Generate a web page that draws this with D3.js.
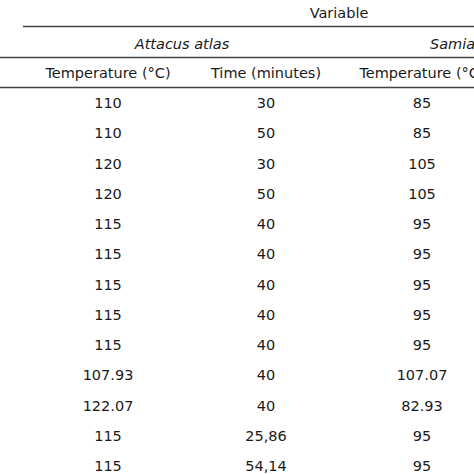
<!DOCTYPE html>
<html><head><meta charset="utf-8">
<script src="https://cdn.jsdelivr.net/npm/d3@7"></script>
<style>body{margin:0;background:#fff}text{font-family:Tahoma,"DejaVu Sans",sans-serif;fill:#1a1a1a;font-size:14.5px}</style>
</head><body><svg id="c" width="474" height="474"></svg>
<script>
// column headers and values
var headers = ["Temperature (°C)", "Time (minutes)", "Temperature (°C)"];
var attacusTemp = ["110", "110", "120", "120", "115", "115", "115", "115", "115", "107.93", "122.07", "115", "115"];
var attacusTime = ["30", "50", "30", "50", "40", "40", "40", "40", "40", "40", "40", "25,86", "54,14"];
var samiaTemp = ["85", "85", "105", "105", "95", "95", "95", "95", "95", "107.07", "82.93", "95", "95"];

var svg = d3.select("#c")
var x = d3.scaleOrdinal().domain([0, 1, 2]).range([108, 266, 422])
var y = d3.scaleLinear().domain([0, 12]).range([108, 471])

function line(x1, x2, yy) {
    svg.append("line").attr("x1", x1).attr("x2", x2).attr("y1", yy).attr("y2", yy)
        .attr("stroke", "#444").attr("stroke-width", 1.3)
}
line(23, 474, 26.5); line(0, 474, 57.5); line(0, 474, 87.5)

svg.append("text").attr("x", 339).attr("y", 18).attr("text-anchor", "middle").text("Variable")
svg.append("text").attr("x", 182).attr("y", 49).attr("text-anchor", "middle").style("font-style", "italic").text("Attacus atlas")
svg.append("text").attr("x", 430).attr("y", 49).style("font-style", "italic").text("Samia cynthia ricini")

headers.forEach(function(h, i) {
    svg.append("text").attr("x", x(i)).attr("y", 78).attr("text-anchor", "middle").text(h)
})

var cols = [attacusTemp, attacusTime, samiaTemp]
cols.forEach(function(col, i) {
    svg.selectAll(null).data(col).enter().append("text")
        .attr("x", x(i)).attr("y", function(d, j) { return y(j) })
        .attr("text-anchor", "middle").text(function(d) { return d })
})
</script></body></html>
